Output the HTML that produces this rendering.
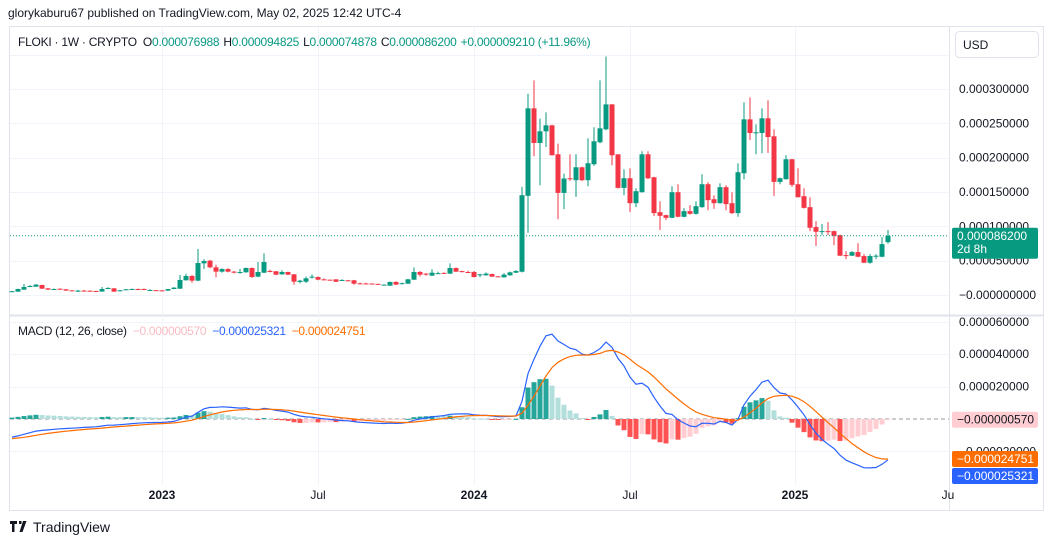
<!DOCTYPE html>
<html><head><meta charset="utf-8">
<style>
body{margin:0;background:#fff;width:1053px;height:545px;overflow:hidden;font-family:"Liberation Sans",sans-serif}
svg text{font-family:"Liberation Sans",sans-serif}
</style></head>
<body>
<svg id="c" width="1053" height="545" xmlns="http://www.w3.org/2000/svg">
<text x="8" y="17" font-size="12" fill="#131722">glorykaburu67 published on TradingView.com, May 02, 2025 12:42 UTC-4</text>
<rect x="9.5" y="26.5" width="1034" height="484" fill="none" stroke="#e0e3eb"/>
<line x1="949.5" y1="27" x2="949.5" y2="510" stroke="#e0e3eb"/>
<line x1="10" y1="315.5" x2="1043" y2="315.5" stroke="#e0e3eb" stroke-width="2"/>
<g id="grid"></g>
<g id="candles"></g>
<g id="macd"></g>
<g id="axes"></g>
<g>
<text x="18" y="46" font-size="12" fill="#131722" letter-spacing="-0.25">FLOKI · 1W · CRYPTO <tspan dx="3">O</tspan><tspan fill="#089981">0.000076988</tspan><tspan dx="4">H</tspan><tspan fill="#089981">0.000094825</tspan><tspan dx="4">L</tspan><tspan fill="#089981">0.000074878</tspan><tspan dx="4">C</tspan><tspan fill="#089981">0.000086200</tspan><tspan dx="4" fill="#089981">+0.000009210 (+11.96%)</tspan></text>
</g>
<g>
<text x="18" y="335" font-size="12" fill="#131722" letter-spacing="-0.3">MACD (12, 26, close) <tspan dx="3" fill="#f8bbc3">−0.000000570</tspan><tspan dx="6" fill="#2962ff">−0.000025321</tspan><tspan dx="6" fill="#ff6d00">−0.000024751</tspan></text>
</g>
<g>
<rect x="955.5" y="31.5" width="83" height="26" rx="4" fill="#fff" stroke="#e0e3eb"/>
<text x="963" y="49" font-size="12" fill="#131722">USD</text>
</g>
<g>
<path d="M10 521h7v3h-2.5v8h-2.5v-8h-2z M19 521h2.5v3h-2.5z M23 521h3.5l-4 11h-3z" fill="#131722"/>
<text x="33" y="532" font-size="14" fill="#131722">TradingView</text>
</g>
</svg>
<script>
const O=[5.4,4.9,7.8,12.1,12.1,14.6,9.7,7.8,9.2,8.3,6.8,4.9,6.4,6.2,5.9,5.0,8.7,9.7,5.9,7.8,8.3,8.7,8.7,6.8,7.0,6.8,6.4,8.7,9.2,21.4,27.7,20.9,46.1,50,40.3,34,37.8,34,33,33,39.3,26.7,32.5,35,34.5,30.1,33.5,30.1,19,19.4,26.2,26.2,22.8,22.3,22.8,21.4,21.4,21.4,17,16.8,16.7,16.2,14.6,13.6,19,17,16.5,22.3,33.5,31.1,28.2,31.5,32.2,31.1,39.3,34.8,33.5,33.5,29.6,28.7,30.6,27.2,25.7,28.7,32.5,
33.9,144.4,271.8,221.4,238.4,247.1,204.9,148.7,170,167.2,186,167.2,190.4,222.4,241.3,277.6,204.9,156,170,133.7,149.7,204.9,171.5,120.6,116.3,112.4,149.7,113.9,122.1,118.2,127.9,161.3,139.5,133.7,157,133.7,119.2,177.3,255.8,235.9,235.9,257.3,231.1,164.7,168.6,197.7,161.3,143.9,127.9,98.9,92.1,93,93,87.2,58.1,57.2,62.5,56.7,47,56.7,55.7,77];
const H=[5.9,9.2,16,14.5,16,15,10,9.5,9.7,8.6,7,7.5,7.5,7,6,11.6,11.5,10,7.5,8.8,9.5,9.5,9.5,8.3,7.3,7,9,11.5,29.1,31,29,66.9,52,51,44,39,39,35,38,40,40,48,60.6,37,35,36,34,30.5,22,27,30,27,24,22.5,23,23,22,22,18,18,17,16.5,15.5,19.5,20,18,23.5,40.3,35,32,37.5,34,33,46,40,35.5,35.5,35,31,33,31,27.5,32,34,36,
157.5,293.1,312.5,256.8,266,248,220.4,176.8,204.9,204.9,187,228.2,244.2,312.5,347.4,278,205,183.1,184.6,155.5,209.3,209.3,172,136.6,117,158.4,161.3,126.5,130.8,136.6,175.9,164.2,145.3,162.8,159.9,149.7,191.9,280.5,287.8,248.5,271.8,283.4,241.3,171,203.5,198,184.6,155.5,142.4,107.6,103.2,106.1,94,88,63.9,63.9,75.6,59.6,59.6,59.6,84.3,94.8];
const L=[5.0,4.5,7.5,11.5,11.8,9,7.5,7.5,7.5,6,6,4.5,5.5,5.5,5,4.8,8.5,4.5,5.5,7.5,8,8,8,6.5,6.5,6.4,6,8.5,9,21,18,20,37.8,39,25.7,32.5,33,31.5,31,32.5,25,26,32,33,29,29.5,29,15,17,17.5,24,21.5,21.5,21.5,19,21,20.5,15,16,16,16,15.5,14.3,13.2,14.6,15.5,16,22,27,28,27.7,31,31,30.6,33.5,33,32,25.5,26,28,26.5,26.5,25.5,28,32,
33,90.6,202,159.9,215.6,203,110.5,125,166.2,142.9,166,158.4,188,221,240,189,155,145.3,120.6,127.9,149,169,114.8,94.5,109,112,113,113,117,117,127,123.5,125.5,133,123.5,118,113.9,168.6,225.8,204.9,206.4,206.9,144.4,161.3,168,157.5,142,126,93,71.2,87.2,87.2,72.7,57,52.3,57,55,46.5,45.5,52.3,55,74.9];
const C=[5.5,8.7,11.6,13.1,15.1,9.2,7.8,8.7,7.8,6.4,6.4,6.4,5.9,5.9,5.4,8.7,10.2,4.9,6.8,8.3,8.7,8.3,8.3,7.3,6.8,6.6,8.7,10.7,21.9,27.7,20.9,46.6,49.5,40.3,34,37.8,34,32.5,33.5,39.3,26.2,33.5,48,34,29.6,33.5,29.6,19.4,20.9,24.3,26.7,22.3,22.3,22.1,19.4,21.9,21.2,16.5,16.5,16.5,16.5,16,15.1,19,15.1,17.2,22.8,33.5,29.6,30.6,32.5,31.8,31.8,39.3,34,33.5,32.5,26.2,30.1,31.1,26.7,26.9,29.6,33,35,
145.3,271.8,221.4,238.4,247.1,203.5,148.7,169.6,169.1,186,167.2,191.9,223.8,242.7,277.6,203.5,156,170,133.7,151.2,204.9,170,119.2,115.3,112.4,149.7,113.9,122.1,118.2,129.3,161.3,138.1,133.7,157,132.3,119.2,178.8,255.8,235.9,236.9,257.3,230.1,164.7,170,197.7,160.4,142.4,126.9,97.9,92.1,93,92.1,86.2,57.2,57.2,62.5,55.7,47,56.7,57.2,74.1,86.2];
const priceTicks=["0.000300000","0.000250000","0.000200000","0.000150000","0.000100000","0.000050000","−0.000000000"];
const priceTickVals=[300,250,200,150,100,50,0];
const macdTicks=["0.000060000","0.000040000","0.000020000","−0.000020000"];
const macdTickVals=[60,40,20,-20];
const timeLabels=["2023","Jul","2024","Jul","2025","Ju"];
const timeIdx=[25,51,77,103,130.5,156];
const timeBold=[1,0,1,0,1,0];
const macdSeed=[10,21.7,-12.3];

const NS="http://www.w3.org/2000/svg";
const px=i=>12+6*i;
const py=v=>295-v*0.6867;
const my=v=>419-v*1.62;
function mk(tag,attrs,parent){const e=document.createElementNS(NS,tag);for(const k in attrs)e.setAttribute(k,attrs[k]);parent.appendChild(e);return e;}
const grid=document.getElementById('grid'),cg=document.getElementById('candles'),mg=document.getElementById('macd'),ax=document.getElementById('axes');
[350,...priceTickVals].forEach(v=>{const l=mk('line',{x1:10,x2:949,y1:Math.round(py(v))+.5,y2:Math.round(py(v))+.5,stroke:'#f0f3fa'},grid);

});
macdTickVals.forEach(v=>{const l=mk('line',{x1:10,x2:949,y1:Math.round(my(v))+.5,y2:Math.round(my(v))+.5,stroke:'#f0f3fa'},grid);

});
timeIdx.slice(0,5).forEach(i=>{const l=mk('line',{x1:Math.round(px(i))+.5,x2:Math.round(px(i))+.5,y1:27,y2:485,stroke:'#f0f3fa'},grid);

});
for(let i=0;i<C.length;i++){
 const up=C[i]>=O[i],col=up?'#089981':'#f23645',x=px(i);
 const w=mk('line',{x1:x,x2:x,y1:py(H[i]),y2:py(L[i]),stroke:col,'stroke-width':1},cg);
 
 
 const t=py(Math.max(O[i],C[i])),b=py(Math.min(O[i],C[i]));
 const r=mk('rect',{x:x-2.5,y:t,width:5,height:Math.max(1,b-t),fill:col},cg);
 
 
}
const lp=py(C[C.length-1]);
const pl=mk('line',{x1:10,x2:949,y1:lp,y2:lp,stroke:'#089981','stroke-dasharray':'1 2'},cg);


let e12=macdSeed[0],e26=macdSeed[1],sig=macdSeed[2];const M=[],S=[],Hs=[];
for(let i=0;i<C.length;i++){e12+= (C[i]-e12)*2/13;e26+=(C[i]-e26)*2/27;const m=e12-e26;sig+=(m-sig)*2/10;M.push(m);S.push(sig);Hs.push(m-sig);}
const zl=mk('line',{x1:10,x2:949,y1:my(0),y2:my(0),stroke:'#9598a1','stroke-dasharray':'4 3'},mg);


for(let i=0;i<Hs.length;i++){
 const h=Hs[i],prev=i?Hs[i-1]:h;
 const col=h>=0?(h>=prev?'#26a69a':'#b2dfdb'):(h<prev?'#ff5252':'#ffcdd2');
 const y1=my(Math.max(h,0)),y2=my(Math.min(h,0));
 const r=mk('rect',{x:px(i)-2.5,y:y1,width:5,height:Math.max(1,y2-y1),fill:col},mg);
 
 
}
const ml=mk('polyline',{points:M.map((v,i)=>px(i)+','+my(v).toFixed(1)).join(' '),fill:'none',stroke:'#2962ff','stroke-width':1.2},mg);


const sl=mk('polyline',{points:S.map((v,i)=>px(i)+','+my(v).toFixed(1)).join(' '),fill:'none',stroke:'#ff6d00','stroke-width':1.2},mg);


priceTicks.forEach((t,k)=>{const e=mk('text',{x:959,y:py(priceTickVals[k])+4,'font-size':12,fill:'#131722'},ax);e.textContent=t;

});
macdTicks.forEach((t,k)=>{const e=mk('text',{x:959,y:my(macdTickVals[k])+4,'font-size':12,fill:'#131722'},ax);e.textContent=t;

});
timeLabels.forEach((t,k)=>{const e=mk('text',{x:px(timeIdx[k]),y:499,'font-size':12,'text-anchor':'middle',fill:'#131722','font-weight':timeBold[k]?'bold':'normal'},ax);e.textContent=t;

});
function badge(y,h,bg,fg,lines,name){const g=mk('g',{},ax);
 mk('rect',{x:952,y:y,width:86,height:h,fill:bg,rx:2},g);
 lines.forEach((t,k)=>{const e=mk('text',{x:957,y:y+12+k*13,'font-size':12,fill:fg},g);e.textContent=t;});}
badge(lp-8,31,'#089981','#fff',['0.000086200','2d 8h'],'last-price-badge');
badge(my(Hs[Hs.length-1])-8,16,'#ffcdd2','#131722',['−0.000000570'],'histogram-badge');
badge(451,16,'#ff6d00','#fff',['−0.000024751'],'signal-badge');
badge(468,16,'#2962ff','#fff',['−0.000025321'],'macd-badge');
</script>
</body></html>
